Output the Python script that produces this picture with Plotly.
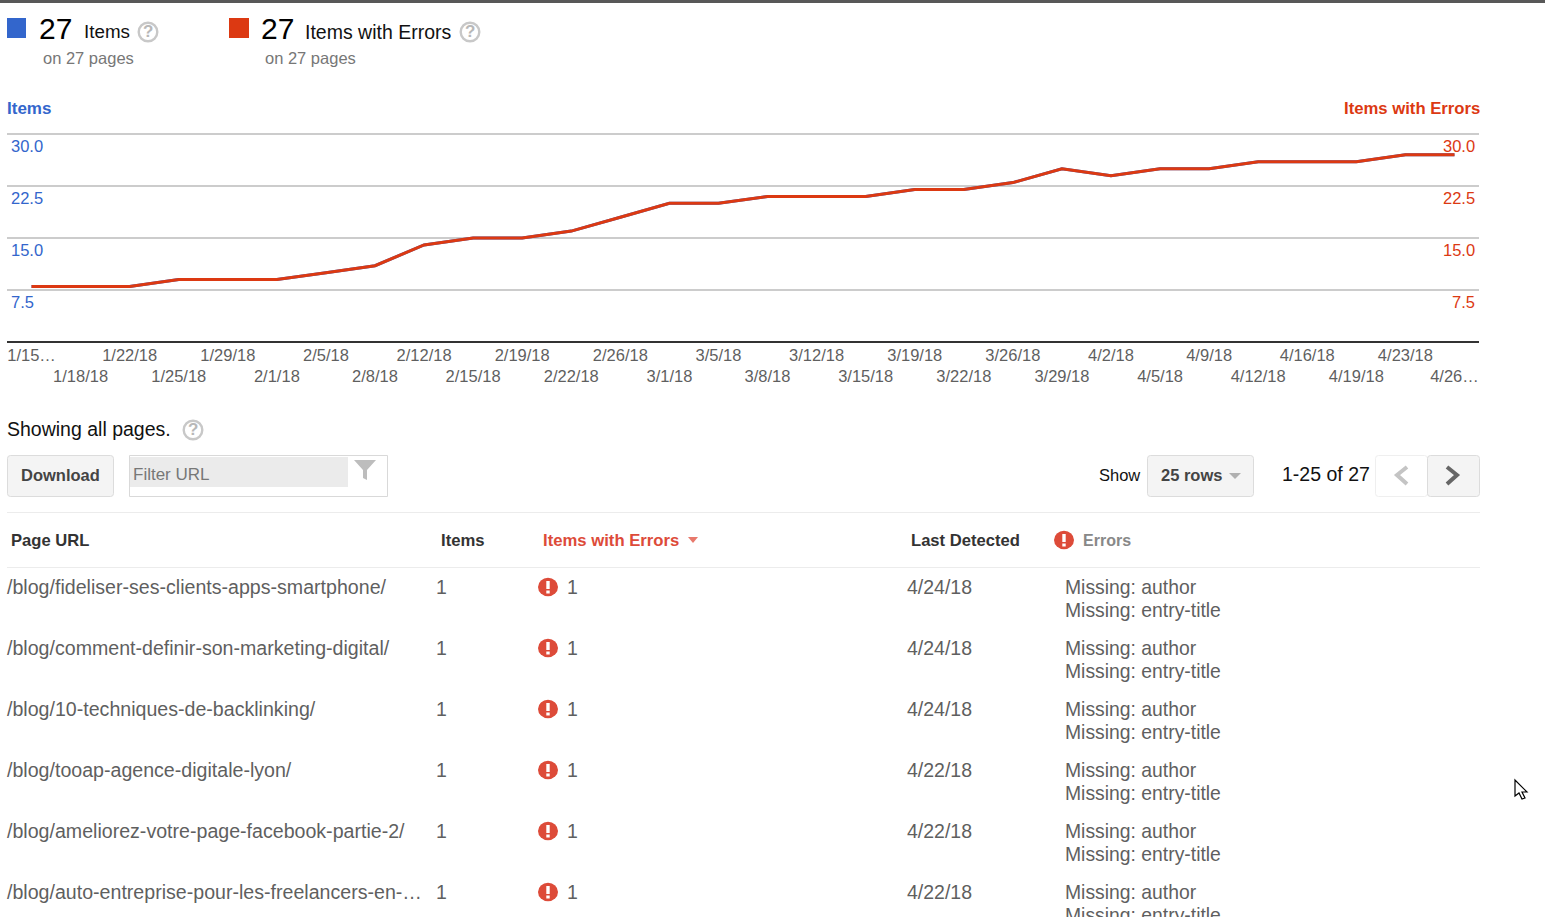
import plotly.graph_objects as go

W = 1545
H = 917

BLUE = "#3366cc"
RED = "#dc3912"
GREY_TEXT = "#5f5f5f"
ERR_RED = "#dd4b39"

dates = ["1/15/18", "1/18/18", "1/22/18", "1/25/18", "1/29/18", "2/1/18", "2/5/18", "2/8/18",
         "2/12/18", "2/15/18", "2/19/18", "2/22/18", "2/26/18", "3/1/18", "3/5/18", "3/8/18",
         "3/12/18", "3/15/18", "3/19/18", "3/22/18", "3/26/18", "3/29/18", "4/2/18", "4/5/18",
         "4/9/18", "4/12/18", "4/16/18", "4/19/18", "4/23/18", "4/26/18"]
x_labels = ["1/15…"] + dates[1:-1] + ["4/26…"]
items = [8, 8, 8, 9, 9, 9, 10, 11, 14, 15, 15, 16, 18, 20, 20, 21, 21, 21, 22, 22, 23, 25, 24,
         25, 25, 26, 26, 26, 27, 27]
items_with_errors = [8, 8, 8, 9, 9, 9, 10, 11, 14, 15, 15, 16, 18, 20, 20, 21, 21, 21, 22, 22,
                     23, 25, 24, 25, 25, 26, 26, 26, 27, 27]
y_ticks = [7.5, 15, 22.5, 30]
y_tick_labels = ["7.5", "15.0", "22.5", "30.0"]

page_urls = ["/blog/fideliser-ses-clients-apps-smartphone/",
             "/blog/comment-definir-son-marketing-digital/",
             "/blog/10-techniques-de-backlinking/",
             "/blog/tooap-agence-digitale-lyon/",
             "/blog/ameliorez-votre-page-facebook-partie-2/",
             "/blog/auto-entreprise-pour-les-freelancers-en-…"]
row_items = [1, 1, 1, 1, 1, 1]
row_errors = [1, 1, 1, 1, 1, 1]
row_detected = ["4/24/18", "4/24/18", "4/24/18", "4/22/18", "4/22/18", "4/22/18"]
row_missing = ["Missing: author", "Missing: entry-title"]

annotations = []
shapes = []


def px(x):
    return x / W


def py(y):
    return 1 - y / H


def pt(x, y):
    return f"{px(x):.5f},{py(y):.5f}"


def text(x, y, s, size=16.5, color=GREY_TEXT, bold=False, anchor="left"):
    if bold:
        s = "<b>" + s + "</b>"
    annotations.append(dict(x=px(x), y=py(y), xref="paper", yref="paper", text=s, showarrow=False,
                            xanchor=anchor, yanchor="middle", borderpad=0, borderwidth=0,
                            font=dict(size=size, color=color)))


def y_label(x, value, s, axis, color, anchor):
    # value labels sit just under their grid line, inside the plot
    annotations.append(dict(x=px(x), y=value, xref="paper", yref=axis, yshift=-12, text=s, showarrow=False,
                            xanchor=anchor, yanchor="middle", borderpad=0, borderwidth=0,
                            font=dict(size=16.5, color=color)))


def rect(x0, y0, x1, y1, fill, line=None, width=1):
    shapes.append(dict(type="rect", xref="paper", yref="paper", x0=px(x0), x1=px(x1), y0=py(y0), y1=py(y1),
                       fillcolor=fill, line=dict(color=line or fill, width=width if line else 0)))


def button(x0, y0, x1, y1, fill, line, r=3):
    d = (f"M {pt(x0 + r, y0)} L {pt(x1 - r, y0)} Q {pt(x1, y0)} {pt(x1, y0 + r)} "
         f"L {pt(x1, y1 - r)} Q {pt(x1, y1)} {pt(x1 - r, y1)} "
         f"L {pt(x0 + r, y1)} Q {pt(x0, y1)} {pt(x0, y1 - r)} "
         f"L {pt(x0, y0 + r)} Q {pt(x0, y0)} {pt(x0 + r, y0)} Z")
    shapes.append(dict(type="path", xref="paper", yref="paper", path=d, fillcolor=fill,
                       line=dict(color=line, width=1)))


def path(points, fill=None, line=None, width=1):
    d = "M " + " L ".join(pt(a, b) for a, b in points)
    if fill:
        d += " Z"
    shapes.append(dict(type="path", xref="paper", yref="paper", path=d, fillcolor=fill or "rgba(0,0,0,0)",
                       line=dict(color=line or fill, width=width if line else 0)))


def oval(cx, cy, rx, ry, fill, line=None, width=1):
    shapes.append(dict(type="circle", xref="paper", yref="paper", x0=px(cx - rx), x1=px(cx + rx), y0=py(cy - ry),
                       y1=py(cy + ry), fillcolor=fill, line=dict(color=line or fill, width=width if line else 0)))


def help_icon(cx, cy):
    oval(cx, cy, 9.3, 9.3, "white", "#c8c8c8", 2.4)
    text(cx, cy, "?", 17, "#b8b8b8", True, "center")


def error_icon(cx, cy):
    oval(cx, cy, 10, 9.2, ERR_RED)
    rect(cx - 1.7, cy - 6, cx + 1.7, cy + 2, "white")
    rect(cx - 1.7, cy + 3.5, cx + 1.7, cy + 6.5, "white")


# top strip and summary
rect(0, 0, W, 3, "#585858")
rect(7, 18, 26, 38, BLUE)
text(39, 28.5, "27", 30, "#000000")
text(84, 32, "Items", 18.8, "#111111")
help_icon(148, 32)
text(43, 58, "on 27 pages", 16.5, "#777777")
rect(229, 18, 249, 38, RED)
text(261, 28.5, "27", 30, "#000000")
text(305, 32, "Items with Errors", 19.5, "#111111")
help_icon(470, 32)
text(265, 58, "on 27 pages", 16.5, "#777777")

text(7, 108, "Items", 17, BLUE, True)
text(1480, 108, "Items with Errors", 16.7, RED, True, "right")

for tick, label in zip(y_ticks, y_tick_labels):
    y_label(11, tick, label, "y", BLUE, "left")
    y_label(1475, tick, label, "y2", RED, "right")

# toolbar
text(7, 429, "Showing all pages.", 19.5, "#111111")
help_icon(193, 430)
button(7.5, 455.5, 113.5, 496.5, "#f4f4f4", "#dcdcdc")
text(60.5, 475, "Download", 16.5, "#444444", True, "center")
rect(129.5, 455.5, 387.5, 496.5, "white", "#d9d9d9")
rect(130, 457, 348, 487, "#ebebeb")
text(133, 474, "Filter URL", 17, "#777777")
path([(354, 460), (376, 460), (367, 470), (367, 480), (363, 478), (363, 470)], "#bdbdbd")
text(1099, 475, "Show", 16.5, "#111111")
button(1147.5, 455.5, 1253.5, 496.5, "#f4f4f4", "#dcdcdc")
text(1161, 475, "25 rows", 16.5, "#444444", True)
path([(1229, 473), (1241, 473), (1235, 479)], "#b0b0b0")
text(1282, 474, "1-25 of 27", 19.5, "#111111")
button(1375.5, 455.5, 1427.5, 496.5, "white", "#efefef")
button(1427.5, 455.5, 1479.5, 496.5, "#f4f4f4", "#dcdcdc")
path([(1407, 467), (1397, 475), (1407, 484)], None, "#c4c4c4", 4)
path([(1447, 467), (1457, 475), (1447, 484)], None, "#666666", 4)

# table head
rect(7, 512, 1480, 513, "#ececec")
rect(7, 567, 1480, 568, "#ececec")
text(11, 540, "Page URL", 16.6, "#333333", True)
text(441, 540, "Items", 16.7, "#333333", True)
text(543, 540, "Items with Errors", 16.7, ERR_RED, True)
path([(688, 537), (698, 537), (693, 543)], "#e8796c")
text(911, 540, "Last Detected", 16.6, "#333333", True)
error_icon(1064, 540)
text(1083, 540, "Errors", 16, "#888888", True)

# table rows
for i, url in enumerate(page_urls):
    row_y = 587 + 61 * i
    text(7, row_y, url, 19.6)
    text(436, row_y, str(row_items[i]), 19.5)
    error_icon(548, row_y)
    text(567, row_y, str(row_errors[i]), 19.5)
    text(907, row_y, row_detected[i], 19.5)
    text(1065, row_y, row_missing[0], 19.35)
    text(1065, row_y + 23, row_missing[1], 19.35)

# mouse pointer at the right
path([(1515, 780), (1515, 796), (1519, 793), (1522, 799), (1525, 798), (1522, 792), (1527, 792)],
     "white", "#000000", 1.2)

tick_text = [d if i % 2 == 0 else "<br>" + d for i, d in enumerate(x_labels)]

fig = go.Figure()
fig.add_trace(go.Scatter(x=dates, y=items, mode="lines", name="Items", yaxis="y",
                         line=dict(color=BLUE, width=3), showlegend=False))
fig.add_trace(go.Scatter(x=dates, y=items_with_errors, mode="lines", name="Items with Errors", yaxis="y2",
                         line=dict(color=RED, width=3), showlegend=False))

# ranges run a little past 0 and 30 so the lines at both ends are still drawn
y_range = [-0.3, 30.3]
y_domain = [py(344), py(132)]

fig.update_layout(
    width=W,
    height=H,
    margin=dict(l=0, r=0, t=0, b=0),
    paper_bgcolor="white",
    plot_bgcolor="white",
    font=dict(family="Liberation Sans, Arial, sans-serif", size=16.5, color=GREY_TEXT),
    annotations=annotations,
    shapes=shapes,
    xaxis=dict(domain=[px(7), px(1479)], type="category", categoryorder="array", categoryarray=dates,
               range=[-0.5, 29.5], tickmode="array", tickvals=dates, ticktext=tick_text, tickangle=0,
               showgrid=False, ticks="", showline=False, zeroline=False, ticklabelstandoff=-1,
               ticklabeloverflow="allow", tickfont=dict(size=16.5, color=GREY_TEXT)),
    yaxis=dict(domain=y_domain, range=y_range, tickmode="array", tickvals=y_ticks, showticklabels=False,
               ticks="", showgrid=True, gridcolor="#cccccc", gridwidth=1.5, zeroline=True,
               zerolinecolor="#333333", zerolinewidth=2),
    yaxis2=dict(domain=y_domain, range=y_range, overlaying="y", side="right", tickmode="array",
                tickvals=y_ticks, showticklabels=False, ticks="", showgrid=False, zeroline=False),
)

fig.write_html("out.html", config={"displayModeBar": False}, post_script="document.body.style.margin='0';")
